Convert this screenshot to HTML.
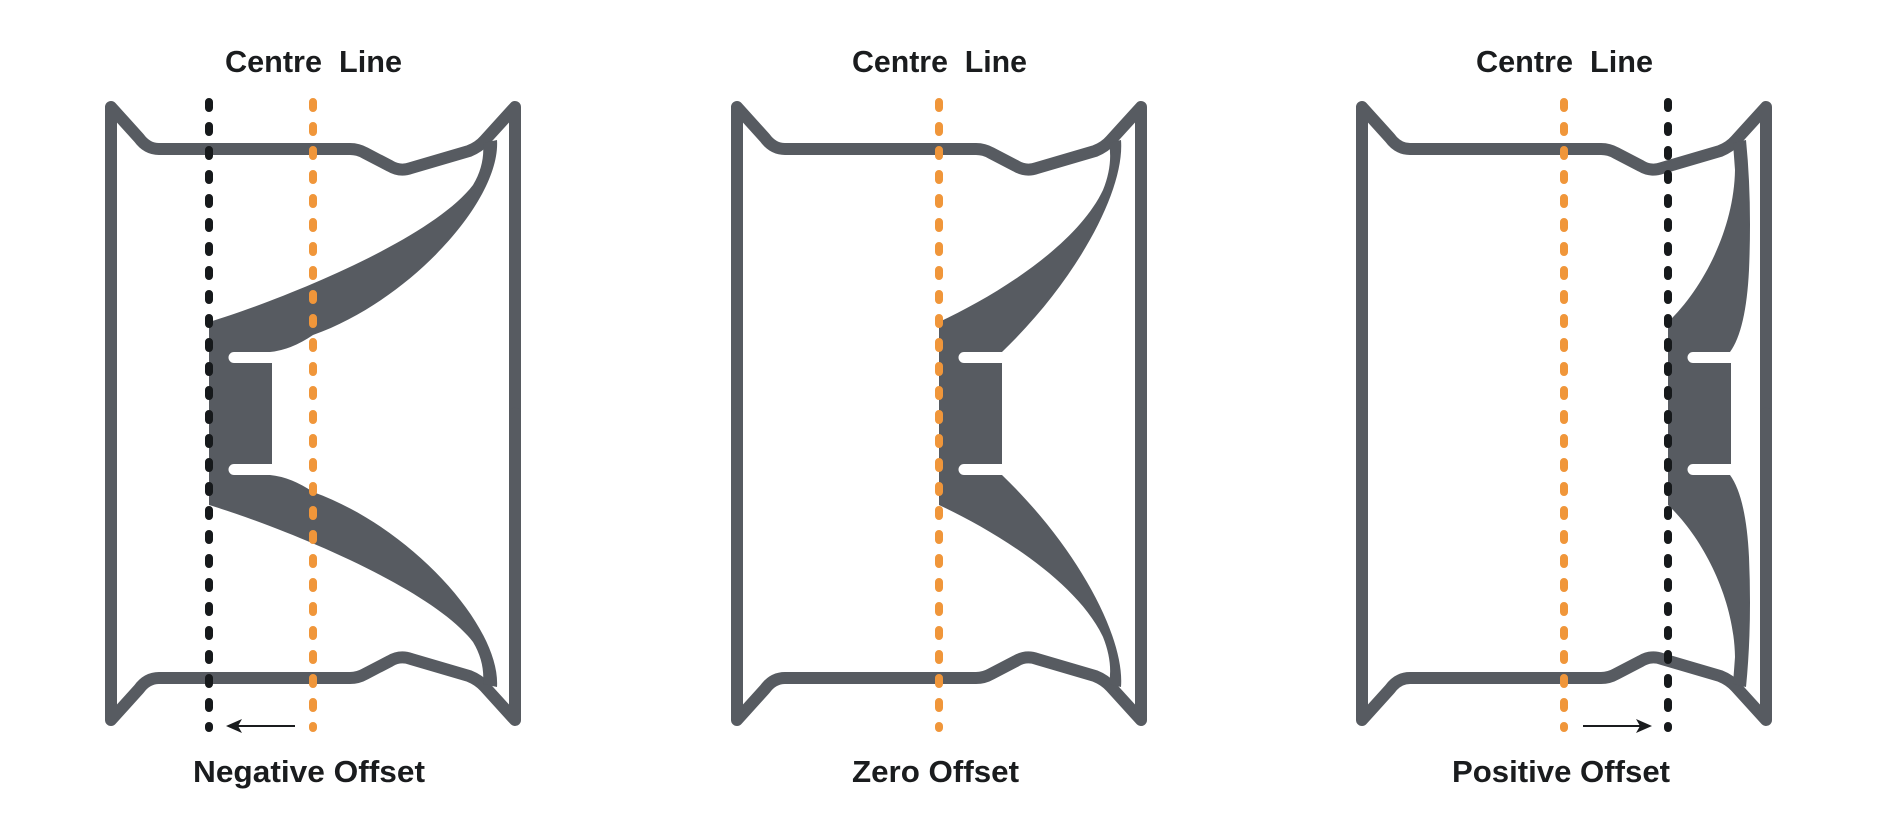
<!DOCTYPE html>
<html><head><meta charset="utf-8"><style>
html,body{margin:0;padding:0;background:#fff;}
svg{display:block;}
text{font-family:"Liberation Sans",sans-serif;font-weight:bold;fill:#1a1c1e;}
</style></head><body>
<svg width="1877" height="834" viewBox="0 0 1877 834" xmlns="http://www.w3.org/2000/svg">
<defs>
<g id="rimhalf">
<path d="M0,413.5 L0,107 L28,138 Q36,149 48,149 L239,149 Q247,149 254,153 L279,166 Q289,172 300,168 L358,151 Q368,147 374,140 L404,107 L404,413.5" fill="none" stroke="#575b61" stroke-width="12" stroke-linejoin="round" stroke-linecap="round"/>
</g>
<g id="rim">
<use href="#rimhalf"/>
<use href="#rimhalf" transform="translate(0,827) scale(1,-1)"/>
</g>
<path id="sp1" fill="#575b61" d="M98,413.5 L98,322 C170,300 320,240 362,185 Q374,165 372,143 L386,140 C390,200 300,300 202,335 Q180,350 159,352 L123,352 A5.5,5.5 0 0 0 123,363 L161,363 L161,413.5 Z"/>
<path id="sp2" fill="#575b61" d="M202,413.5 L202,322 C260,295 340,245 366,190 Q376,165 372,143 L384,140 C388,190 340,280 265,352 L227,352 A5.5,5.5 0 0 0 227,363 L265,363 L265,413.5 Z"/>
<path id="sp3" fill="#575b61" d="M306,413.5 L306,322 C340,290 372,230 373,170 L371,143 L384,140 Q390,200 387,270 Q384,330 368,352 L331,352 A5.5 5.5 0 0 0 331,363 L369,363 L369,413.5 Z"/>
</defs>

<g transform="translate(111,0)">
<use href="#rim"/>
<use href="#sp1"/>
<use href="#sp1" transform="translate(0,827) scale(1,-1)"/>
</g>
<g transform="translate(737,0)">
<use href="#rim"/>
<use href="#sp2"/>
<use href="#sp2" transform="translate(0,827) scale(1,-1)"/>
</g>
<g transform="translate(1362,0)">
<use href="#rim"/>
<use href="#sp3"/>
<use href="#sp3" transform="translate(0,827) scale(1,-1)"/>
</g>

<g stroke-width="8" stroke-linecap="round" stroke-dasharray="6 18" fill="none">
<line x1="209" y1="102" x2="209" y2="728" stroke="#16191b"/>
<line x1="313" y1="102" x2="313" y2="728" stroke="#f0963a"/>
<line x1="939" y1="102" x2="939" y2="728" stroke="#f0963a"/>
<line x1="1564" y1="102" x2="1564" y2="728" stroke="#f0963a"/>
<line x1="1668" y1="102" x2="1668" y2="728" stroke="#16191b"/>
</g>

<line x1="295" y1="726" x2="236" y2="726" stroke="#1a1c1e" stroke-width="2"/>
<path d="M226,726 L242,719 L238,726 L242,733 Z" fill="#1a1c1e"/>
<line x1="1583" y1="726" x2="1642" y2="726" stroke="#1a1c1e" stroke-width="2"/>
<path d="M1652,726 L1636,719 L1640,726 L1636,733 Z" fill="#1a1c1e"/>

<text x="225" y="72" font-size="31" textLength="177" lengthAdjust="spacingAndGlyphs" xml:space="preserve">Centre  Line</text>
<text x="852" y="72" font-size="31" textLength="175" lengthAdjust="spacingAndGlyphs" xml:space="preserve">Centre  Line</text>
<text x="1476" y="72" font-size="31" textLength="177" lengthAdjust="spacingAndGlyphs" xml:space="preserve">Centre  Line</text>
<text x="193" y="782" font-size="31" textLength="232" lengthAdjust="spacingAndGlyphs">Negative Offset</text>
<text x="852" y="782" font-size="31" textLength="167" lengthAdjust="spacingAndGlyphs">Zero Offset</text>
<text x="1452" y="782" font-size="31" textLength="218" lengthAdjust="spacingAndGlyphs">Positive Offset</text>
</svg>
</body></html>
